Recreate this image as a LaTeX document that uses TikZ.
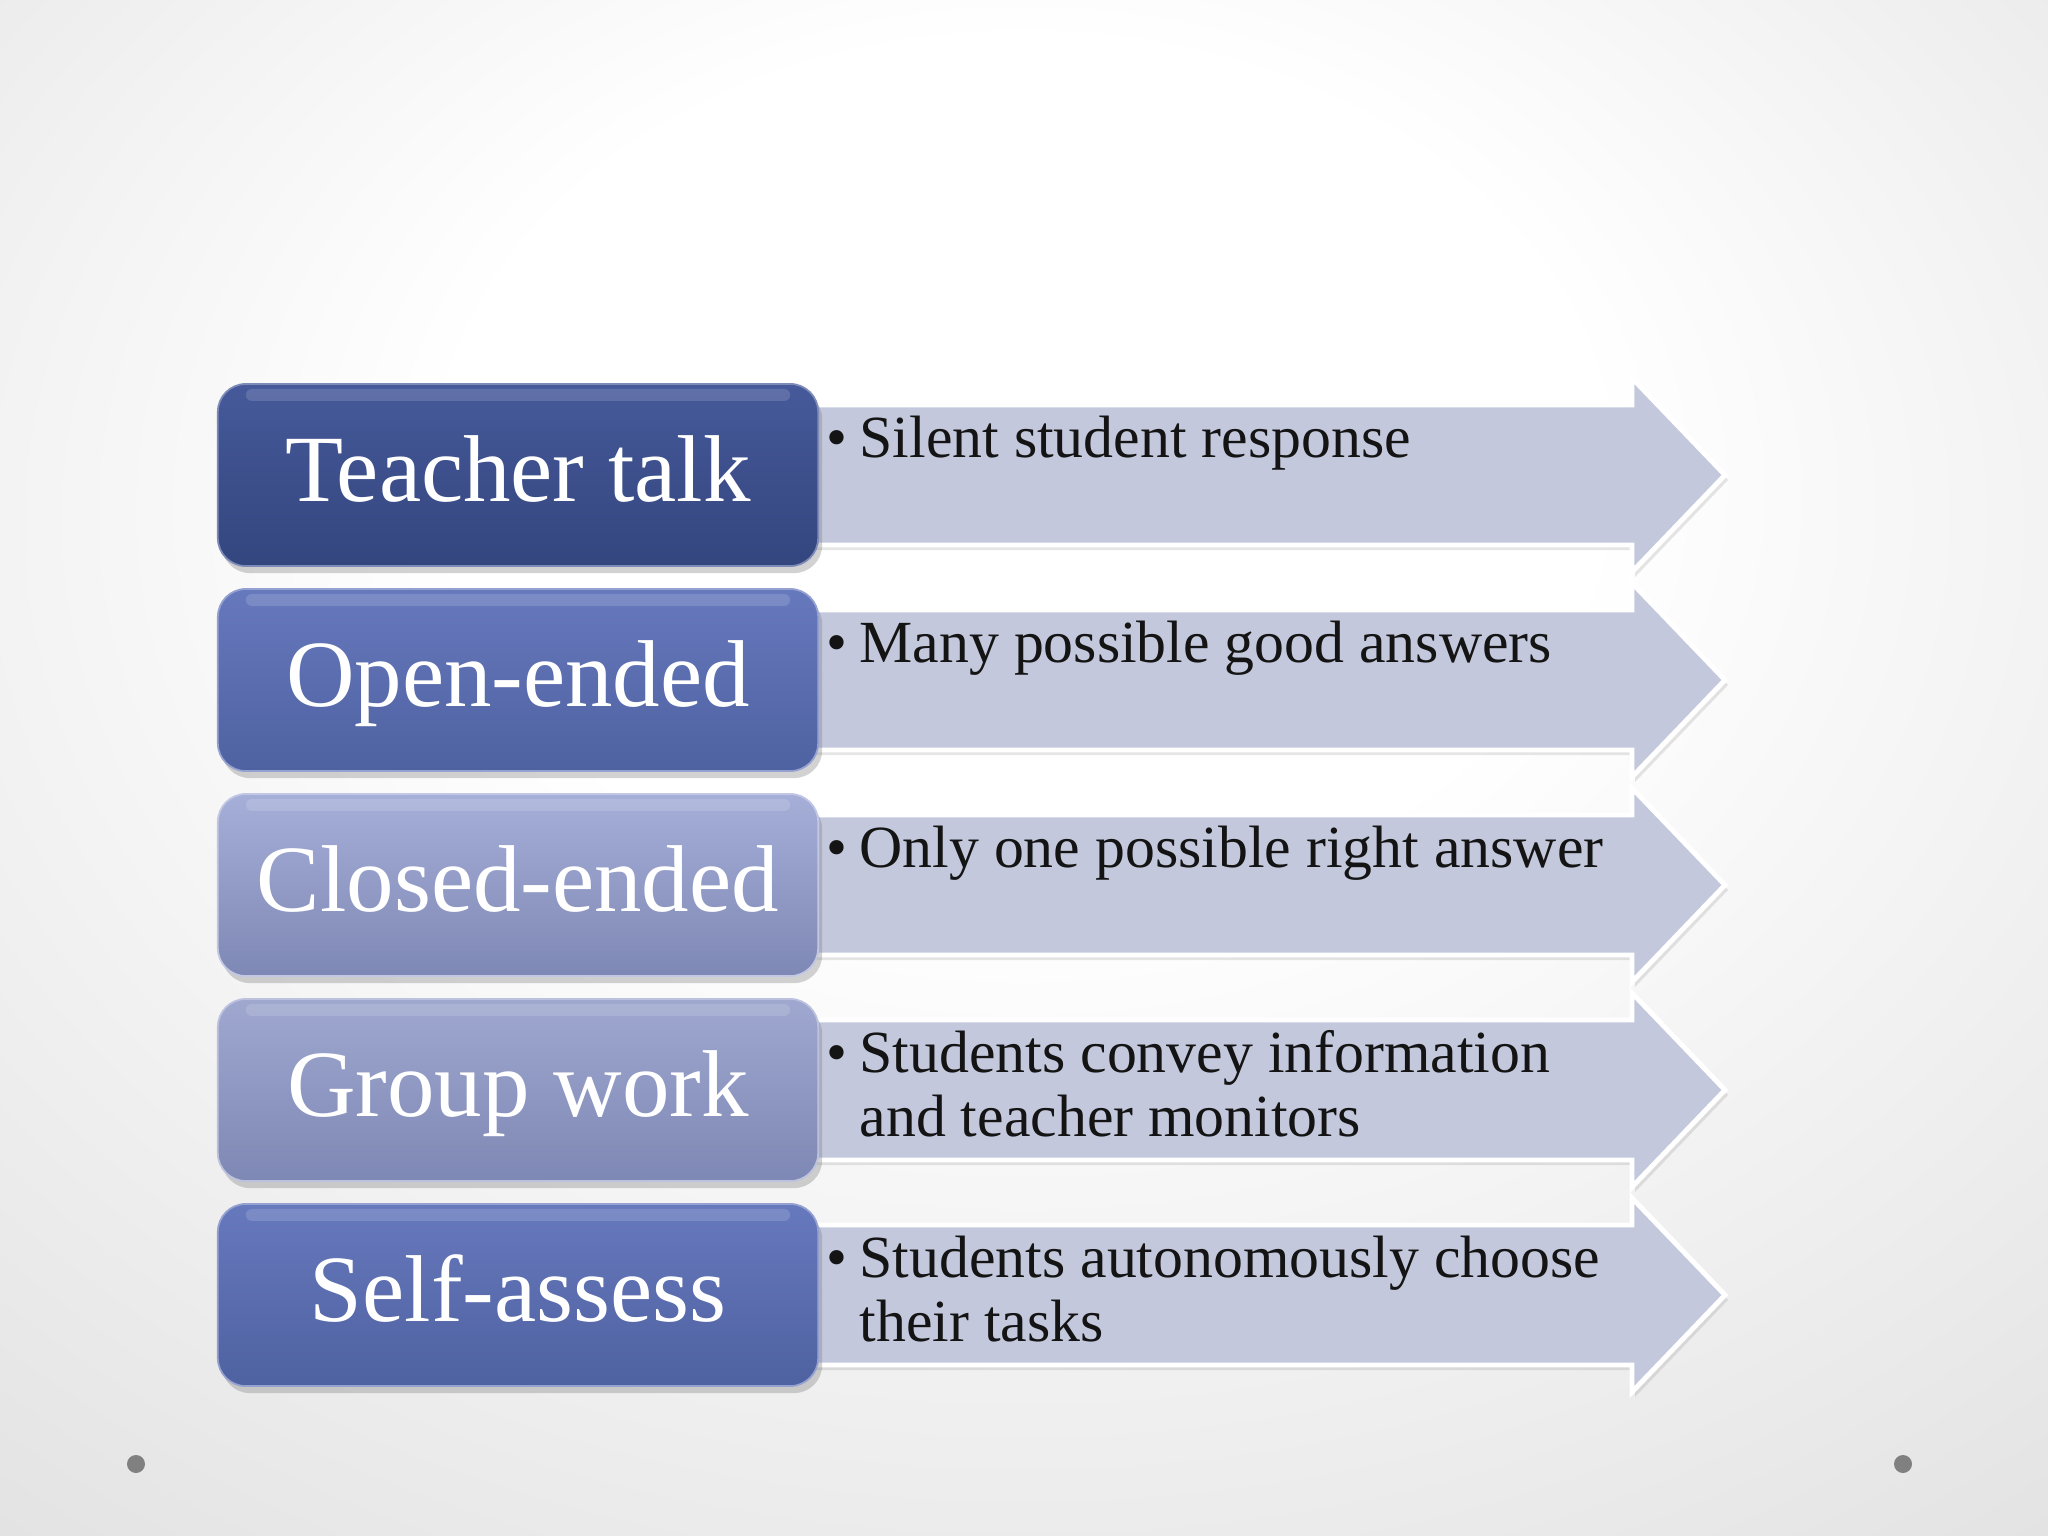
\documentclass[tikz,border=0pt]{standalone}
\usepackage{fontspec}
\setmainfont{Liberation Serif}
\usetikzlibrary{shadows}
\definecolor{navytop}{HTML}{46599A}
\definecolor{navybot}{HTML}{33467E}
\definecolor{bluetop}{HTML}{6779BD}
\definecolor{bluebot}{HTML}{4E61A0}
\definecolor{paletop}{HTML}{A6AFD8}
\definecolor{palebot}{HTML}{7E88B4}
\definecolor{notefill}{HTML}{C3C8DC}
\definecolor{dotgrey}{HTML}{808080}
\pgfdeclareradialshading{slidebg}{\pgfpoint{0bp}{12bp}}{color(0bp)=(white); color(14bp)=(white); color(44bp)=(black!13); color(72bp)=(black!20)}
\tikzset{
  stagebox/.style 2 args={rounded corners=0.28cm, minimum width=6cm, minimum height=1.82cm,
    top color=#1, bottom color=#2, draw=#1!70!white, line width=0.5pt,
    text=white, font=\fontsize{27}{32}\selectfont, text height=6.6mm, text depth=1.4mm,
    drop shadow={shadow xshift=0.4mm, shadow yshift=-0.7mm, opacity=0.35},
    path picture={\fill[white, opacity=0.14, rounded corners=0.6mm]
      ([xshift=2.8mm, yshift=-0.5mm]path picture bounding box.north west)
      rectangle ([xshift=-2.8mm, yshift=-1.7mm]path picture bounding box.north east);}},
  notearrow/.style={fill=notefill, draw=white, line width=1.4pt,
    drop shadow={shadow xshift=0.3mm, shadow yshift=-0.5mm, opacity=0.2}},
  notetext/.style={anchor=base west, inner sep=0pt, text=black!92,
    font=\fontsize{17}{18.4}\selectfont}
}
\newcommand{\rowarrow}[1]{%
  \draw[notearrow] (800,#1-70) -- (1632,#1-70) -- (1632,#1-97) -- (1725,#1)
    -- (1632,#1+97) -- (1632,#1+70) -- (800,#1+70) -- cycle;}
\newcommand{\bul}[1]{\begin{tabular}[t]{@{}c@{\hspace{1.2mm}}l@{}}#1\end{tabular}}

\begin{document}
\begin{tikzpicture}[x=0.01cm, y=-0.01cm]
  \useasboundingbox (0,0) rectangle (2048,1536);
  \shade[shading=slidebg] (0,0) rectangle (2048,1536);

  % Arrows behind the boxes
  \rowarrow{475}
  \rowarrow{680}
  \rowarrow{885}
  \rowarrow{1090}
  \rowarrow{1295}

  % Boxes
  \node[stagebox={navytop}{navybot}] (b1) at (518,475) {Teacher talk};
  \node[stagebox={bluetop}{bluebot}] (b2) at (518,680) {Open-ended};
  \node[stagebox={paletop}{palebot}] (b3) at (518,885) {Closed-ended};
  \node[stagebox={paletop!96!black}{palebot}] (b4) at (518,1090) {Group work};
  \node[stagebox={bluetop}{bluebot}] (b5) at (518,1295) {Self-assess};

  % Notes
  \node[notetext] (n1) at (826,457) {\bul{\textbullet & Silent student response}};
  \node[notetext] (n2) at (826,662) {\bul{\textbullet & Many possible good answers}};
  \node[notetext] (n3) at (826,867) {\bul{\textbullet & Only one possible right answer}};
  \node[notetext] (n4) at (826,1072) {\bul{\textbullet & Students convey information\\ & and teacher monitors}};
  \node[notetext] (n5) at (826,1277) {\bul{\textbullet & Students autonomously choose\\ & their tasks}};

  % Slide dots
  \fill[dotgrey] (136,1464) circle (9);
  \fill[dotgrey] (1903,1464) circle (9);
\end{tikzpicture}
\end{document}
